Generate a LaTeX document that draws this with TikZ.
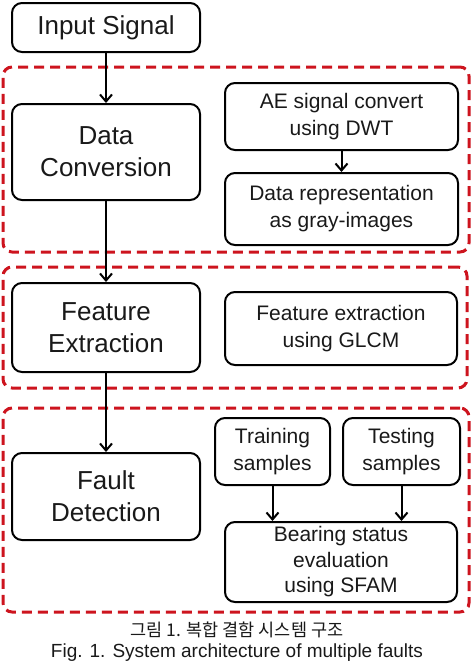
\documentclass[tikz,border=0pt]{standalone}
\usepackage{fontspec}
\setmainfont{Liberation Sans}
\newfontfamily\krfont{Noto Sans CJK KR}
\usetikzlibrary{arrows.meta}
\definecolor{dashred}{RGB}{205,20,30}
\definecolor{txt}{RGB}{25,25,25}
\tikzset{
  box/.style={draw=black, line width=2pt, rounded corners=10pt, align=center, inner sep=0pt, text=txt},
  bigbox/.style={box, font=\fontsize{26}{32}\selectfont},
  smallbox/.style={box, font=\fontsize{21}{27}\selectfont},
  groupbox/.style={draw=dashred, line width=3pt, dash pattern=on 10pt off 6pt, rounded corners=9pt, inner sep=0pt},
  arr/.style={draw=black, line width=2pt, -{Straight Barb[length=7pt,width=12pt,line width=2pt]}},
}
\begin{document}
\begin{tikzpicture}[x=1pt,y=-1pt]
\useasboundingbox (0,0) rectangle (474,662);
% group boxes
\node[groupbox, minimum width=466pt, minimum height=185pt] (g1) at (236,159.5) {};
\node[groupbox, minimum width=464pt, minimum height=121pt] (g2) at (235,327.5) {};
\node[groupbox, minimum width=466pt, minimum height=204pt] (g3) at (236,510) {};
% left column
\node[bigbox, minimum width=188pt, minimum height=49pt] (in) at (106,27.5) {Input Signal};
\node[bigbox, minimum width=188pt, minimum height=96pt] (dc) at (106,152) {Data\\Conversion};
\node[bigbox, minimum width=188pt, minimum height=89pt] (fe) at (106,327.5) {Feature\\Extraction};
\node[bigbox, minimum width=188pt, minimum height=87pt] (fd) at (106,496.5) {Fault\\Detection};
% right column
\node[smallbox, minimum width=233pt, minimum height=67pt] (ae) at (341.5,116.5) {AE signal convert\\using DWT};
\node[smallbox, minimum width=233pt, minimum height=72pt] (dr) at (341.5,209) {Data representation\\as gray-images};
\node[smallbox, minimum width=232pt, minimum height=73pt] (gl) at (341,328.5) {Feature extraction\\using GLCM};
\node[smallbox, minimum width=115pt, minimum height=67pt] (tr) at (272.5,451.5) {Training\\samples};
\node[smallbox, minimum width=117pt, minimum height=67pt] (ts) at (401.5,451.5) {Testing\\samples};
\node[smallbox, minimum width=232pt, minimum height=80pt, font=\fontsize{21}{25.5}\selectfont] (be) at (341,562) {Bearing status\\evaluation\\using SFAM};
% arrows
\draw[arr] (in.south) -- (dc.north);
\draw[arr] (dc.south) -- (fe.north);
\draw[arr] (fe.south) -- (fd.north);
\draw[arr] (ae.south) -- (dr.north);
\draw[arr] (tr.south) -- (tr.south |- be.north);
\draw[arr] (ts.south) -- (ts.south |- be.north);
% caption
\node[font=\krfont\fontsize{17.5}{20}\selectfont, text=txt] (cap1) at (237,630) {그림 1. 복합 결함 시스템 구조};
\node[font=\fontsize{19}{22}\selectfont, text=txt] (cap2) at (237,653) {Fig. 1. System architecture of multiple faults};
\end{tikzpicture}
\end{document}
